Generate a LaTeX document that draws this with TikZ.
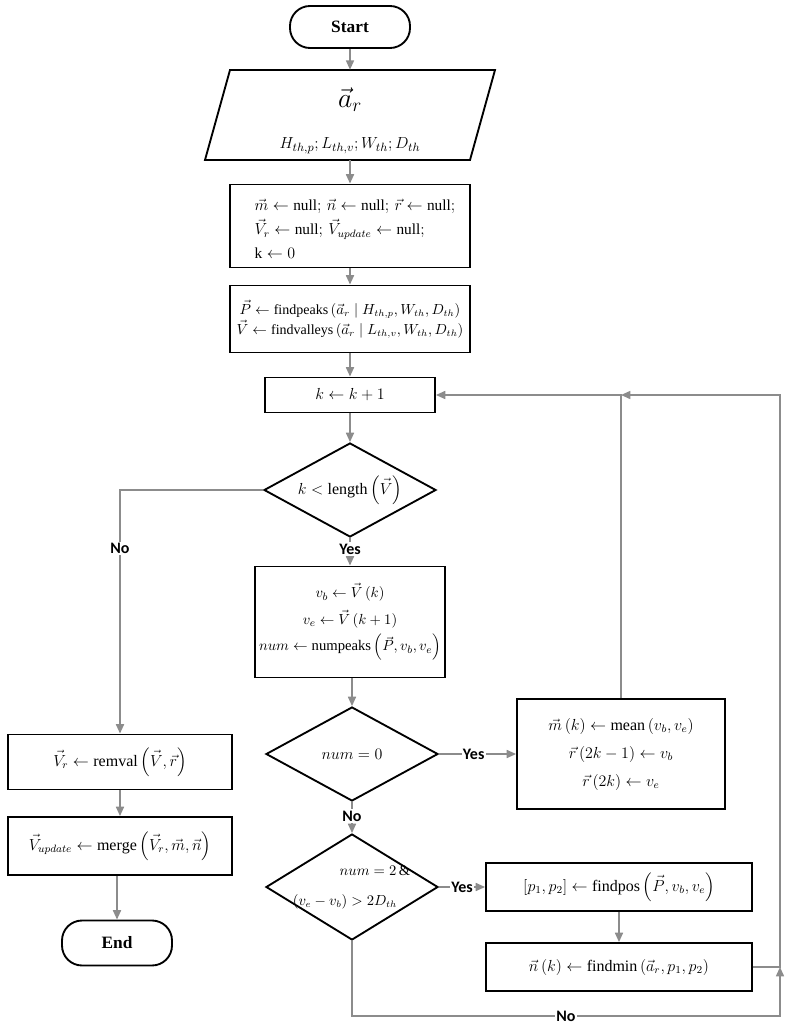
\documentclass[tikz,border=0pt]{standalone}
\usepackage{fontspec}
\usepackage{amsmath}
\setmainfont{Liberation Serif}
\newfontfamily\lblfont{Carlito}
\usetikzlibrary{shapes.geometric,arrows.meta}
\begin{document}
\begin{tikzpicture}[x=0.75pt,y=-0.75pt,
    font=\fontsize{12}{15}\selectfont,
    box/.style={draw=black, line width=1.4pt, rectangle, inner sep=0pt, align=center},
    dec/.style={draw=black, line width=1.4pt, diamond, inner sep=0pt, minimum width=172*0.75pt, minimum height=94*0.75pt},
    term/.style={draw=black, line width=1.4pt, rectangle, rounded corners=20*0.75pt, inner sep=0pt, font=\fontsize{13}{16}\selectfont\bfseries},
    flow/.style={draw=gray!90, line width=1.2pt, -{Triangle[length=7pt,width=6pt]}},
    lbl/.style={fill=white, inner sep=1pt, font=\lblfont\fontsize{12}{14}\selectfont\bfseries}]
  \useasboundingbox (0,0) rectangle (791,1024);
  % nodes
  \node[term, minimum width=120*0.75pt, minimum height=42*0.75pt] (start) at (350,27) {Start};
  \node[minimum width=270*0.75pt, minimum height=90*0.75pt] (in) at (350,115) {};
  \draw[black, line width=1.4pt] (230,70) -- (495,70) -- (470,160) -- (205,160) -- cycle;
  \node (ar) at (350,100) {\fontsize{20}{22}\selectfont $\vec{a}_r$};
  \node (th) at (350,146) {\fontsize{13}{15}\selectfont $H_{th,p};L_{th,v};W_{th};D_{th}$};
  \node[box, minimum width=240*0.75pt, minimum height=83*0.75pt] (b1) at (350,226) {};
  \node[align=left, anchor=west, font=\fontsize{11.5}{18}\selectfont] (b1t) at (250,229)
    {$\vec{m}\leftarrow\mathrm{null};\,\vec{n}\leftarrow\mathrm{null};\,\vec{r}\leftarrow\mathrm{null};$\\
     $\vec{V}_r\leftarrow\mathrm{null};\,\vec{V}_{update}\leftarrow\mathrm{null};$\\
     $\mathrm{k}\leftarrow 0$};
  \node[box, minimum width=240*0.75pt, minimum height=67*0.75pt, font=\fontsize{10.5}{15}\selectfont] (b2) at (350,319)
    {$\vec{P}\leftarrow\mathrm{findpeaks}\left(\vec{a}_r\mid H_{th,p},W_{th},D_{th}\right)$\\
     $\vec{V}\leftarrow\mathrm{findvalleys}\left(\vec{a}_r\mid L_{th,v},W_{th},D_{th}\right)$};
  \node[box, minimum width=170*0.75pt, minimum height=35*0.75pt] (b3) at (350,395) {$k\leftarrow k+1$};
  \node[dec] (d1) at (350,490) {};
  \node (d1t) at (350,490) {$k<\mathrm{length}\left(\vec{V}\right)$};
  \node[box, minimum width=190*0.75pt, minimum height=111*0.75pt, font=\fontsize{11}{20}\selectfont] (b4) at (350,622)
    {$v_b\leftarrow\vec{V}\left(k\right)$\\
     $v_e\leftarrow\vec{V}\left(k+1\right)$\\
     $num\leftarrow\mathrm{numpeaks}\left(\vec{P},v_b,v_e\right)$};
  \node[dec] (d2) at (352,754) {};
  \node (d2t) at (352,754) {$num=0$};
  \node[box, minimum width=208*0.75pt, minimum height=110*0.75pt, font=\fontsize{12}{21}\selectfont] (b5) at (621,754)
    {$\vec{m}\left(k\right)\leftarrow\mathrm{mean}\left(v_b,v_e\right)$\\
     $\vec{r}\left(2k-1\right)\leftarrow v_b$\\
     $\vec{r}\left(2k\right)\leftarrow v_e$};
  \node[dec, minimum height=106*0.75pt] (d3) at (352,887) {};
  \node[font=\fontsize{11}{13}\selectfont] (d3a) at (375,871) {$num=2\,\&$};
  \node[font=\fontsize{10.5}{13}\selectfont] (d3b) at (345,902) {$\left(v_e-v_b\right)>2D_{th}$};
  \node[box, minimum width=266*0.75pt, minimum height=48*0.75pt] (b6) at (619,887)
    {$\left[p_1,p_2\right]\leftarrow\mathrm{findpos}\left(\vec{P},v_b,v_e\right)$};
  \node[box, minimum width=266*0.75pt, minimum height=48*0.75pt] (b7) at (619,967)
    {$\vec{n}\left(k\right)\leftarrow\mathrm{findmin}\left(\vec{a}_r,p_1,p_2\right)$};
  \node[box, minimum width=224*0.75pt, minimum height=55*0.75pt] (rv) at (120,762)
    {$\vec{V}_r\leftarrow\mathrm{remval}\left(\vec{V},\vec{r}\right)$};
  \node[box, minimum width=224*0.75pt, minimum height=58*0.75pt] (mg) at (120,846)
    {$\vec{V}_{update}\leftarrow\mathrm{merge}\left(\vec{V}_r,\vec{m},\vec{n}\right)$};
  \node[term, minimum width=110*0.75pt, minimum height=45*0.75pt] (end) at (117,943) {End};
  % helper points
  \coordinate (r1) at (780,967);
  \coordinate (rb) at (780,1016);
  \coordinate (j1) at (621,395);
  % connectors
  \draw[flow] (start) -- (in.north);
  \draw[flow] (in.south) -- (b1);
  \draw[flow] (b1) -- (b2);
  \draw[flow] (b2) -- (b3);
  \draw[flow] (b3) -- (d1.north);
  \draw[flow] (d1.south) -- node[lbl, pos=0.4] {Yes} (b4);
  \draw[flow] (b4.south -| d2) -- (d2.north);
  \draw[flow] (d2.east) -- node[lbl, pos=0.45] {Yes} (b5);
  \draw[flow] (d2.south) -- node[lbl, pos=0.45] {No} (d3.north);
  \draw[flow] (d3.east) -- node[lbl, pos=0.5] {Yes} (b6);
  \draw[flow] (b6) -- (b7);
  \draw[flow] (d1.west) -| node[lbl, pos=0.62] {No} (rv.north);
  \draw[flow] (rv) -- (mg);
  \draw[flow] (mg.south -| end) -- (end);
  \draw[flow] (b5.north) |- (b3.east);
  \draw[flow] (b7.east) -- (r1) |- (j1);
  \draw[flow] (d3.south) |- node[lbl, pos=0.75] {No} (rb) -- (r1);
\end{tikzpicture}
\end{document}
